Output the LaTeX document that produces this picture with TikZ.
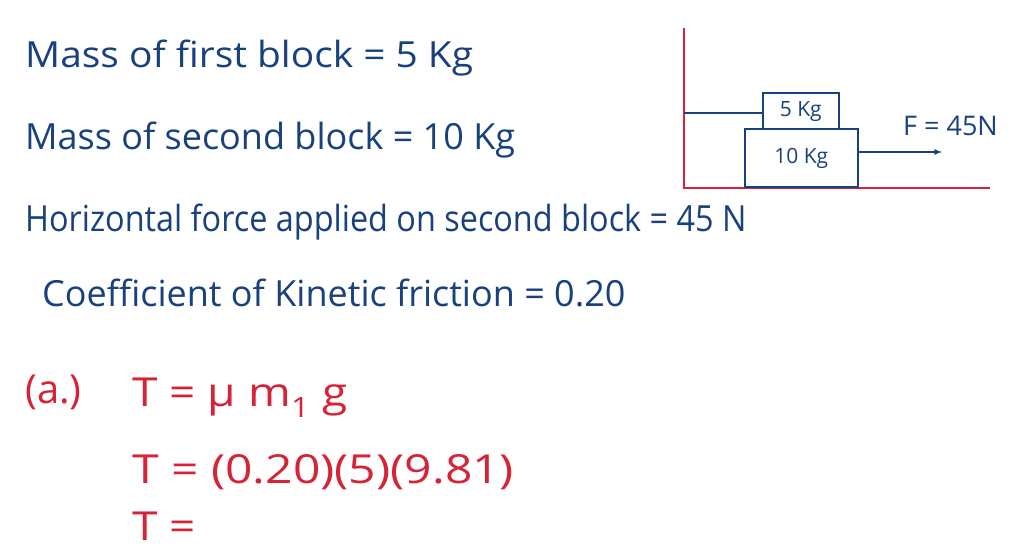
\documentclass[tikz,border=0pt]{standalone}
\usepackage{fontspec}
\setmainfont{Open Sans}
\definecolor{ink}{RGB}{25,65,125}
\definecolor{redink}{RGB}{215,35,55}
\begin{document}
\begin{tikzpicture}[x=1pt,y=-1pt,
  txt/.style={anchor=west,inner sep=0pt,font=\fontsize{36}{38}\selectfont,text=ink},
  rtxt/.style={anchor=west,inner sep=0pt,font=\fontsize{40}{42}\selectfont,text=redink},
  lbl/.style={inner sep=0pt,font=\fontsize{21}{23}\selectfont,text=ink},
  blk/.style={draw=ink,line width=1.6pt}]
\useasboundingbox[fill=white] (0,0) rectangle (1024,558);
\node[txt,xscale=1.08] (l1) at (25,58) {Mass of first block = 5 Kg};
\node[txt] (l2) at (25,140) {Mass of second block = 10 Kg};
\node[txt,xscale=0.9] (l3) at (25,222) {Horizontal force applied on second block = 45 N};
\node[txt] (l4) at (42,293) {Coefficient of Kinetic friction = 0.20};
\node[rtxt] (a) at (25,392) {(a.)};
\node[rtxt,xscale=1.15] (e1) at (132,398) {T = μ m\textsubscript{1} g};
\node[rtxt,xscale=1.2] (e2) at (132,472) {T = (0.20)(5)(9.81)};
\node[rtxt,xscale=1.15] (e3) at (132,526) {T =};
% diagram
\coordinate (wtop) at (684,28);
\coordinate (corner) at (684,188);
\coordinate (fend) at (990,188);
\draw[redink,line width=1.6pt] (wtop) -- (corner) -- (fend);
\node[blk,minimum width=113pt,minimum height=58pt,anchor=south west] (b2) at (744,188) {};
\node[blk,minimum width=76pt,minimum height=36pt,anchor=south west] (b1) at (762,130) {};
\node[lbl] at (b1) {5 Kg};
\node[lbl] at (b2) {10 Kg};
\coordinate (wall) at (684,113);
\draw[ink,line width=1.6pt] (wall) -- (wall -| b1.west);
\coordinate (ftip) at (942,152);
\draw[ink,line width=1.6pt,-latex] (ftip -| b2.east) -- (ftip);
\node[lbl,font=\fontsize{27}{29}\selectfont,anchor=west] (F) at (903,126) {F = 45N};
\end{tikzpicture}
\end{document}
